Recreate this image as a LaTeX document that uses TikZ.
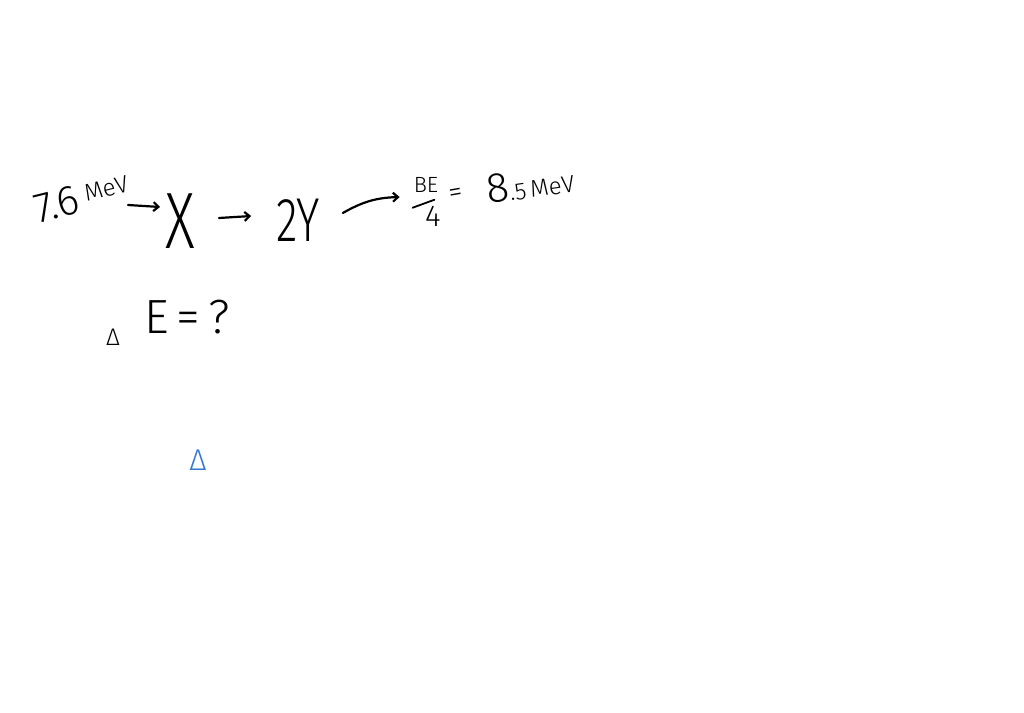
\documentclass[tikz,border=0pt]{standalone}
\usepackage{fontspec}
\IfFontExistsTF{Fira Sans Light}{\setmainfont{Fira Sans Light}}{\setmainfont{Liberation Sans}}
\usetikzlibrary{arrows.meta,calc}
\definecolor{penblue}{RGB}{52,120,212}
\newcommand{\fs}[1]{\fontsize{#1}{#1}\selectfont}
\begin{document}
\begin{tikzpicture}[x=1pt,y=-1pt,
  ink/.style={line width=2.2pt,line cap=round,line join=round},
  arr/.style={ink,-{Straight Barb[length=5pt,width=9pt]}},
  hw/.style={inner sep=0pt,text=black}]
\useasboundingbox (0,0) rectangle (1024,712);
\fill[white] (0,0) rectangle (1024,712);

% first line
\node[hw,rotate=14] (mev) at (82,198) {\fs{42}7.6\,\raisebox{9pt}{\fs{24}MeV}};
\node[hw,xscale=0.72] (X) at (180,221) {\fs{80}X};
\node[hw,xscale=0.72] (Y) at (298,220) {\fs{62}2Y};
\node[hw] (BE) at (426,185) {\fs{22}BE};
\node[hw] (four) at (433,216) {\fs{30}4};
\draw[ink,line width=1.8pt] ($(BE.south west)+(-1,15)$) -- ($(BE.south east)+(-4,7)$);
\node[hw,rotate=10] (eq) at (456,195) {\fs{28}=};
\node[hw,rotate=8] (val) at (530,184) {\fs{42}8{\fs{24}.5\,MeV}};

\draw[arr] ($(X.west)+(-37,-16)$) -- ($(X.west)+(-5,-14)$);
\draw[arr] ($(X.east)+(24,-3)$) -- ($(Y.west)+(-25,-4)$);
\draw[arr] ($(Y.east)+(23,-7)$) to[bend left=14] ($(BE.west)+(-14,12)$);

% second line
\node[hw,anchor=base west] (dE) at (106,333)
  {\raisebox{-12pt}{\fs{24}Δ}\hspace{24pt}{\fs{48}E\,=\,?}};

% blue mark
\node[hw,text=penblue] (d2) at (198,460) {\fs{30}Δ};
\end{tikzpicture}
\end{document}
